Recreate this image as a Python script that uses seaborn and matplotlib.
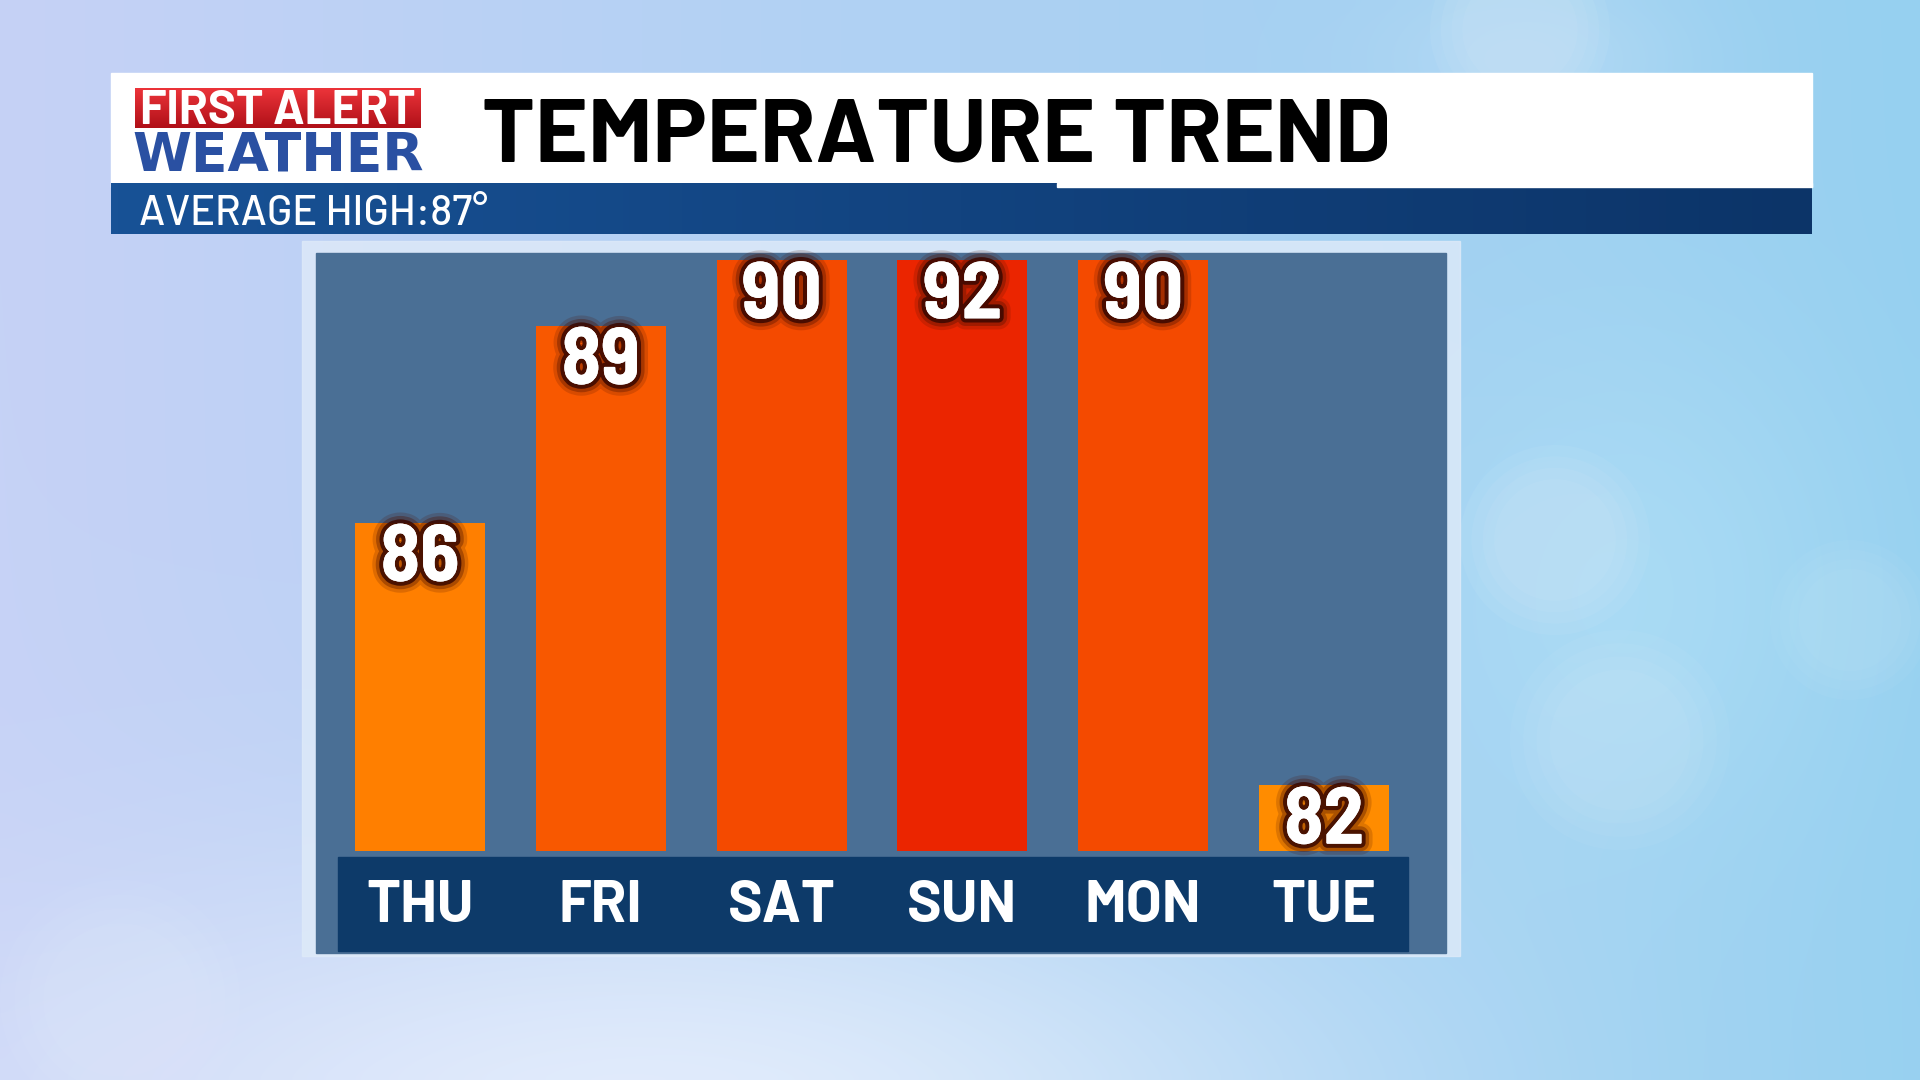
import matplotlib
matplotlib.use("Agg")
import numpy as np
import pandas as pd
import matplotlib.pyplot as plt
import matplotlib.patheffects as pe
import matplotlib.transforms as mtransforms
from matplotlib.patches import Rectangle, Circle
import seaborn as sns

# ---- data ----
days = ["THU", "FRI", "SAT", "SUN", "MON", "TUE"]
highs = [86, 89, 90, 92, 90, 82]
bar_colors = ["#ff7f00", "#f85800", "#f44a00", "#eb2500", "#f44a00", "#ff8c00"]
title = "TEMPERATURE TREND"
subtitle = "AVERAGE HIGH:87°"
logo_top = "FIRST ALERT"
logo_bottom = "WEATHER"
y_floor, y_cap = 81, 90

sns.set_theme(style="white")
COND = ["Barlow Semi Condensed", "Barlow", "DejaVu Sans"]
WIDE = ["Barlow", "DejaVu Sans"]
plt.rcParams["font.family"] = COND

W, H = 1920, 1080
fig = plt.figure(figsize=(19.2, 10.8), dpi=100)

# ---- background (pixel coordinates) ----
bg = fig.add_axes([0, 0, 1, 1])
bg.set_xlim(0, W)
bg.set_ylim(H, 0)
bg.axis("off")
xx, yy = np.meshgrid(np.linspace(0, 1, 192), np.linspace(0, 1, 108))
left = np.array([198, 210, 246]) / 255
right = np.array([150, 208, 240]) / 255
img = left[None, None, :] * (1 - xx[..., None]) + right[None, None, :] * xx[..., None]
glow = np.exp(-(((xx - 0.35) / 0.35) ** 2 + ((yy - 1.05) / 0.25) ** 2))
img = img * (1 - 0.7 * glow[..., None]) + 0.7 * glow[..., None] * np.array([0.96, 0.97, 1.0])
glow2 = np.exp(-(((xx - 0.85) / 0.12) ** 2 + ((yy - 0.55) / 0.25) ** 2))
img = img * (1 - 0.35 * glow2[..., None]) + 0.35 * glow2[..., None] * np.array([0.75, 0.93, 0.98])
glow3 = np.exp(-(((xx - 0.8) / 0.08) ** 2 + ((yy - 0.05) / 0.08) ** 2))
img = img * (1 - 0.3 * glow3[..., None]) + 0.3 * glow3[..., None] * np.array([0.85, 0.92, 0.98])
bg.imshow(np.clip(img, 0, 1), extent=[0, W, H, 0], aspect="auto", interpolation="bicubic", zorder=0)
for (cx, cy, r, a) in [(1555, 540, 95, 0.05), (1620, 740, 110, 0.04), (1520, 30, 90, 0.05),
                       (1850, 620, 80, 0.03), (120, 1000, 120, 0.03)]:
    for k in range(4):
        bg.add_patch(Circle((cx, cy), r * (1 - 0.12 * k), color="white", alpha=a, lw=0, zorder=1))

# header white box
bg.add_patch(Rectangle((111, 73), 1701, 114, color="white", zorder=2))
# subheader blue gradient bar
grad = np.linspace(0, 1, 256)[None, :, None]
c1 = np.array([24, 82, 150]) / 255
c2 = np.array([12, 52, 104]) / 255
gimg = c1 * (1 - grad) + c2 * grad
bg.imshow(gimg, extent=[111, 1812, 234, 183], aspect="auto", zorder=3)
bg.add_patch(Rectangle((1057, 183), 755, 4, color="white", zorder=3.5))

# logo
red = np.linspace(0, 1, 64)[:, None, None]
r1 = np.array([236, 52, 58]) / 255
r2 = np.array([176, 16, 24]) / 255
rimg = r1 * (1 - red) + r2 * red
bg.imshow(np.repeat(rimg, 2, axis=1), extent=[135, 421, 128, 88], aspect="auto", zorder=4)
bg.text(278, 124, logo_top, color="white", fontsize=34, fontweight="bold", family=WIDE,
        ha="center", va="baseline", zorder=5)
bg.text(278, 171, logo_bottom, color="#2a50a2", fontsize=38.5, fontweight="bold",
        family=["DejaVu Sans"], ha="center", va="baseline", zorder=5)

# title & subtitle
bg.text(482, 162, title, color="black", fontsize=65.3, fontweight="bold", family=WIDE,
        ha="left", va="baseline", zorder=5)
bg.text(139, 225, subtitle, color="white", fontsize=30, fontweight="medium", family=WIDE,
        ha="left", va="baseline", zorder=5)

# chart panel
bg.add_patch(Rectangle((302, 241), 1158, 715, color="#dfebf9", alpha=0.8, zorder=2))
bg.add_patch(Rectangle((316, 253), 1130, 700, color="#4a6f95", zorder=3))
bg.add_patch(Rectangle((338, 857), 1070, 94, color="#0d3a69", zorder=4))

# ---- bar chart ----
px_left, px_right, px_top, px_bot = 316, 1446, 260, 851
step = 180.8
c0 = 420
ax = fig.add_axes([px_left / W, 1 - px_bot / H, (px_right - px_left) / W, (px_bot - px_top) / H])
ax.patch.set_alpha(0)
df = pd.DataFrame({"day": days, "high": highs})
sns.barplot(data=df, x="day", y="high", hue="day", palette=bar_colors, legend=False,
            width=130 / step, saturation=1, linewidth=0, edgecolor="none", ax=ax)
ax.set_xlim((px_left - c0) / step, (px_right - c0) / step)
ax.set_ylim(y_floor, y_cap)
ax.axis("off")

glow_fx = [pe.withStroke(linewidth=16, foreground="#4a1000", alpha=0.18),
           pe.withStroke(linewidth=11, foreground="#4a1000", alpha=0.35),
           pe.withStroke(linewidth=6, foreground="#3a0800", alpha=0.85),
           pe.Normal()]
for i, v in enumerate(highs):
    ax.annotate(str(v), xy=(i, min(v, y_cap)), xytext=(0, -42), textcoords="offset points",
                ha="center", va="baseline", color="white", fontsize=58, fontweight="bold",
                path_effects=glow_fx, annotation_clip=False)

tr = mtransforms.blended_transform_factory(ax.transData, fig.transFigure)
for i, d in enumerate(days):
    ax.text(i, 1 - 922 / H, d, transform=tr, ha="center", va="baseline", color="white",
            fontsize=42, fontweight="bold", family=WIDE, clip_on=False)

fig.savefig("out.png", dpi=100)
